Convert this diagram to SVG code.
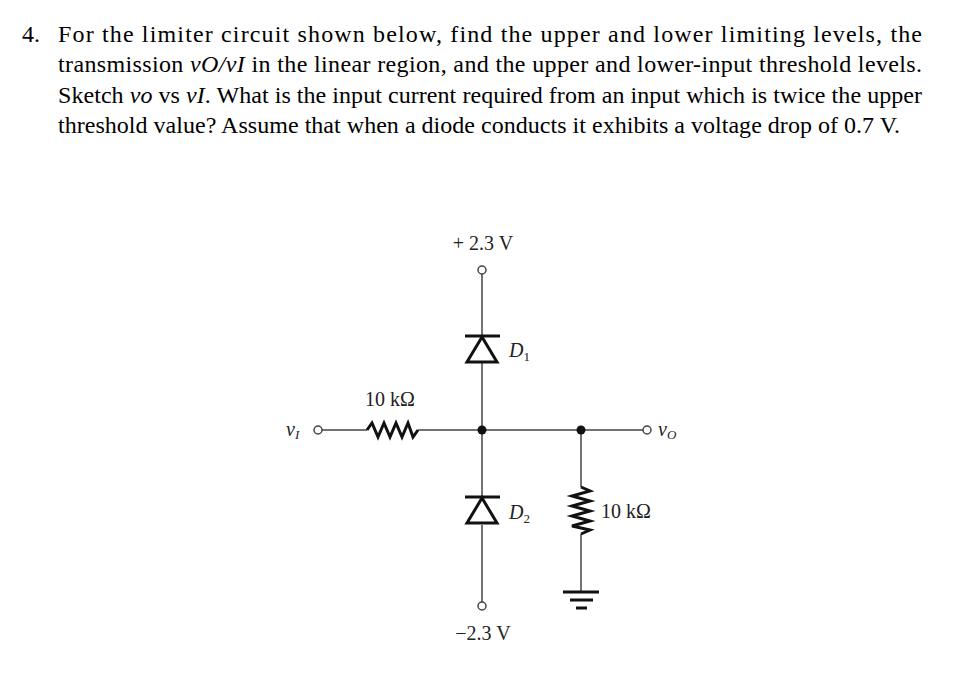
<svg xmlns="http://www.w3.org/2000/svg" width="972" height="682" viewBox="0 0 972 682">
<style>
.t{font-family:"Liberation Serif",serif;font-size:24px;fill:#000}
.c{font-family:"Liberation Serif",serif;font-size:20px;fill:#222}
.w{stroke:#444;stroke-width:1.5;fill:none}
.k{stroke:#111;stroke-width:3;fill:none}
.o{stroke:#444;stroke-width:1.5;fill:#fff}
</style>
<rect width="972" height="682" fill="#fff"/>
<g id="question">
<text class="t" x="22" y="42">4.</text>
<text class="t" x="58" y="42" textLength="864" lengthAdjust="spacing">For the limiter circuit shown below, find the upper and lower limiting levels, the</text>
<text class="t" x="58" y="72" textLength="864" lengthAdjust="spacing">transmission <tspan font-style="italic">vO/vI</tspan> in the linear region, and the upper and lower-input threshold levels.</text>
<text class="t" x="58" y="103" textLength="864" lengthAdjust="spacing">Sketch <tspan font-style="italic">vo</tspan> vs <tspan font-style="italic">vI</tspan>. What is the input current required from an input which is twice the upper</text>
<text class="t" x="58" y="133" textLength="842" lengthAdjust="spacing">threshold value? Assume that when a diode conducts it exhibits a voltage drop of 0.7 V.</text>
</g>
<g id="connectors">
<path class="w" d="M482 274V336M482 363V497M482 525V602M322 430H367M418 430H643M581 430V487M581 534V592"/>
</g>
<g id="vplus"><circle class="o" cx="482" cy="270" r="4"/><text class="c" x="483" y="250" text-anchor="middle">+ 2.3 V</text></g>
<g id="D1"><path class="k" d="M465 336H500"/><path class="k" d="M482 337L467 362H497Z"/><text class="c" x="509" y="357" font-style="italic">D<tspan font-size="13" font-style="normal" dy="4">1</tspan></text></g>
<g id="D2"><path class="k" d="M465 497H500"/><path class="k" d="M482 498L467 523H497Z"/><text class="c" x="509" y="519" font-style="italic">D<tspan font-size="13" font-style="normal" dy="4">2</tspan></text></g>
<g id="vminus"><circle class="o" cx="482" cy="606" r="4"/><text class="c" x="483" y="640" text-anchor="middle">−2.3 V</text></g>
<g id="R1"><path class="k" stroke-width="2.5" d="M367 430L372 423L378 437L384 423L390 437L396 423L402 437L408 423L413 437L418 430"/><text class="c" x="390" y="406" text-anchor="middle">10 kΩ</text></g>
<g id="vin"><circle class="o" cx="318" cy="430" r="4"/><text class="c" x="286" y="436" font-style="italic">v<tspan font-size="13" dy="3">I</tspan></text></g>
<g id="n1"><circle cx="482" cy="430" r="4.5" fill="#111"/></g>
<g id="n2"><circle cx="581" cy="430" r="4.5" fill="#111"/></g>
<g id="vout"><circle class="o" cx="647" cy="430" r="4"/><text class="c" x="658" y="436" font-style="italic">v<tspan font-size="13" dy="3">O</tspan></text></g>
<g id="R2"><path class="k" stroke-width="2.5" d="M581 487L590 491L572 496L590 501L572 506L590 511L572 516L590 521L572 526L590 530L581 534"/><text class="c" x="601" y="518">10 kΩ</text></g>
<g id="gnd"><path class="k" d="M563 592H599M570 600H593M576 608H587"/></g>
</svg>
